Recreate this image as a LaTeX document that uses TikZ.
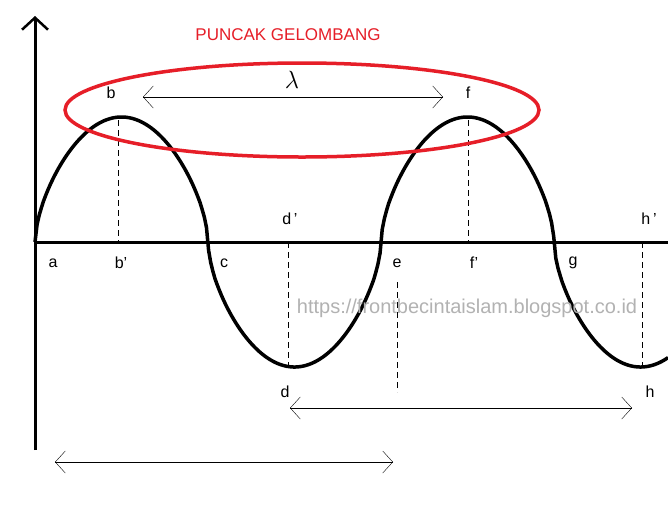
\documentclass[tikz,border=0pt]{standalone}
\usepackage{fontspec}
\setmainfont{Liberation Sans}
\usetikzlibrary{arrows.meta,shapes.geometric}
\begin{document}
\begin{tikzpicture}[x=1pt,y=-1pt,
  lbl/.style={font=\fontsize{16}{18}\selectfont},
  dsh/.style={dashed,thin,dash pattern=on 6pt off 4pt},
  dim/.style={thin,{Straight Barb[length=10pt,width=22pt]}-{Straight Barb[length=10pt,width=22pt]}}]
\useasboundingbox (0,0) rectangle (668,520);
\fill[white] (0,0) rectangle (668,520);
% axes
\coordinate (o) at (35,242);
\coordinate (top) at (35,16);
\coordinate (bot) at (35,450);
\coordinate (right) at (668,242);
\draw[line width=3pt,-{Straight Barb[length=12pt,width=26pt,line width=2.5pt]}] (bot) -- (top);
\draw[line width=3pt] (o) -- (right);
% wave
\draw[line width=3.5pt] plot[domain=35:668,samples=300] (\x,{242-125*sign(sin((\x-35)/346*360))*abs(sin((\x-35)/346*360))^0.6});
% dashed lines
\coordinate (bt) at (118,120); \coordinate (bb) at (118,242);
\coordinate (ft) at (468,120); \coordinate (fb) at (468,242);
\coordinate (dt) at (288,242); \coordinate (db) at (288,368);
\coordinate (ht) at (642,242); \coordinate (hb) at (642,368);
\coordinate (et) at (397,282); \coordinate (eb) at (397,392);
\draw[dsh] (bt) -- (bb);
\draw[dsh] (ft) -- (fb);
\draw[dsh] (dt) -- (db);
\draw[dsh] (ht) -- (hb);
\draw[dsh] (et) -- (eb);
% labels
\node[lbl] (a) at (53,263) {a};
\node[lbl] (b) at (111,93) {b};
\node[lbl] (bp) at (121,263) {b'};
\node[lbl] (c) at (224,263) {c};
\node[lbl] (dp) at (290,219) {d\,'};
\node[lbl] (d) at (285,392) {d};
\node[lbl] (e) at (397,263) {e};
\node[lbl] (f) at (468,93) {f};
\node[lbl] (fp) at (474,263) {f'};
\node[lbl] (g) at (573,263) {g};
\node[lbl] (hp) at (649,219) {h\,'};
\node[lbl] (h) at (650,392) {h};
% arrows
\coordinate (l1) at (143,97); \coordinate (l2) at (443,97);
\draw[dim] (l1) -- (l2);
\node[font=\fontsize{26}{28}\selectfont] (lam) at (292,80) {$\lambda$};
\coordinate (m1) at (290,408); \coordinate (m2) at (632,408);
\draw[dim] (m1) -- (m2);
\coordinate (n1) at (55,462); \coordinate (n2) at (393,462);
\draw[dim] (n1) -- (n2);
% red
\definecolor{rd}{RGB}{230,30,40}
\node[draw=rd,line width=3.5pt,ellipse,minimum width=474pt,minimum height=94pt] (ell) at (302,110) {};
\node[text=rd,font=\fontsize{17}{19}\selectfont] (pk) at (288,35) {PUNCAK GELOMBANG};
\node[text=black!30,font=\fontsize{20}{22}\selectfont] (wm) at (467,308) {https://frontbecintaislam.blogspot.co.id};
\end{tikzpicture}
\end{document}
